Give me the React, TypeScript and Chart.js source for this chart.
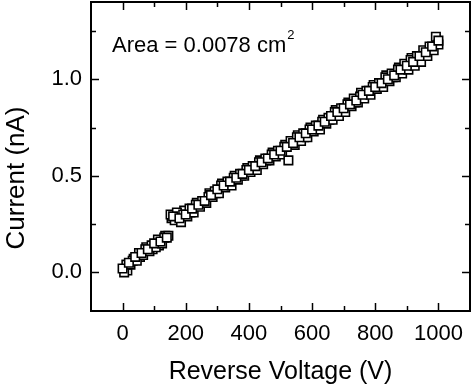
import React, { useEffect, useRef } from "react";
import { Chart, registerables } from "chart.js";

Chart.register(...registerables);

// ---- Data ----
const voltageA = [
  0, 20, 40, 60, 80, 100, 120, 140, 160, 180,
  200, 220, 240, 260, 280, 300, 320, 340, 360, 380,
  400, 420, 440, 460, 480, 500, 520, 540, 560, 580,
  600, 620, 640, 660, 680, 700, 720, 740, 760, 780,
  800, 820, 840, 860, 880, 900, 920, 940, 960, 980,
  1000,
];
const currentA = [
  0.02, 0.05, 0.08, 0.10, 0.12, 0.15, 0.16, 0.18, 0.29, 0.28,
  0.30, 0.33, 0.35, 0.37, 0.40, 0.43, 0.45, 0.47, 0.49, 0.51,
  0.53, 0.55, 0.57, 0.59, 0.61, 0.63, 0.65, 0.67, 0.70, 0.72,
  0.74, 0.76, 0.78, 0.81, 0.83, 0.85, 0.87, 0.89, 0.92, 0.94,
  0.96, 0.98, 1.00, 1.02, 1.05, 1.07, 1.09, 1.12, 1.14, 1.17,
  1.20,
];

const voltageB = [
  5, 25, 45, 65, 85, 105, 125, 145, 165, 185,
  205, 225, 245, 265, 285, 305, 325, 345, 365, 385,
  405, 425, 445, 465, 485, 505, 525, 545, 565, 585,
  605, 625, 645, 665, 685, 705, 725, 745, 765, 785,
  805, 825, 845, 865, 885, 905, 925, 945, 965, 985,
  1000,
];
const currentB = [
  0.00, 0.04, 0.06, 0.09, 0.11, 0.13, 0.15, 0.19, 0.27, 0.26,
  0.29, 0.31, 0.34, 0.36, 0.39, 0.41, 0.44, 0.45, 0.48, 0.50,
  0.52, 0.53, 0.56, 0.58, 0.60, 0.61, 0.58, 0.66, 0.68, 0.70,
  0.73, 0.74, 0.77, 0.79, 0.81, 0.83, 0.86, 0.88, 0.90, 0.92,
  0.95, 0.96, 0.99, 1.01, 1.03, 1.05, 1.07, 1.09, 1.12, 1.15,
  1.18,
];

const voltageC = [
  12, 32, 52, 72, 92, 112, 132, 152, 172, 192,
  212, 232, 252, 272, 292, 312, 332, 352, 372, 392,
  412, 432, 452, 472, 492, 512, 532, 552, 572, 592,
  612, 632, 652, 672, 692, 712, 732, 752, 772, 792,
  812, 832, 852, 872, 892, 912, 932, 952, 972, 992,
];
const currentC = [
  0.04, 0.06, 0.10, 0.12, 0.14, 0.17, 0.18, 0.30, 0.31, 0.30,
  0.33, 0.35, 0.37, 0.39, 0.42, 0.45, 0.47, 0.49, 0.51, 0.53,
  0.55, 0.57, 0.59, 0.61, 0.63, 0.65, 0.68, 0.70, 0.72, 0.74,
  0.76, 0.78, 0.80, 0.83, 0.85, 0.87, 0.90, 0.91, 0.94, 0.96,
  0.98, 1.01, 1.03, 1.05, 1.08, 1.10, 1.12, 1.15, 1.17, 1.22,
];

const voltageD = [
  15, 35, 55, 75, 95, 115, 135, 155, 175, 195,
  215, 235, 255, 275, 295, 315, 335, 355, 375, 395,
  415, 435, 455, 475, 495, 515, 535, 555, 575, 595,
  615, 635, 655, 675, 695, 715, 735, 755, 775, 795,
  815, 835, 855, 875, 895, 915, 935, 955, 975, 995,
];
const currentD = [
  0.01, 0.07, 0.08, 0.13, 0.12, 0.14, 0.19, 0.28, 0.30, 0.32,
  0.31, 0.36, 0.36, 0.41, 0.41, 0.46, 0.46, 0.50, 0.50, 0.54,
  0.54, 0.58, 0.58, 0.62, 0.62, 0.66, 0.66, 0.71, 0.70, 0.75,
  0.75, 0.79, 0.79, 0.84, 0.84, 0.88, 0.88, 0.93, 0.93, 0.97,
  0.97, 1.02, 1.01, 1.06, 1.06, 1.11, 1.10, 1.13, 1.16, 1.19,
];

const xMajorTicks = [0, 200, 400, 600, 800, 1000];
const xMinorTicks = [100, 300, 500, 700, 900];
const yMajorTicks = [0.0, 0.5, 1.0];
const yMinorTicks = [0.25, 0.75, 1.25];

const xTitle = "Reverse Voltage (V)";
const yTitle = "Current (nA)";
const annotationText = "Area = 0.0078 cm";
const annotationSup = "2";

const FONT = '"Liberation Sans", Arial, Helvetica, sans-serif';

const toPoints = (xs: number[], ys: number[]) =>
  xs.map((v, i) => ({ x: v, y: ys[i] }));

const framePlugin = {
  id: "frameAndTicks",
  afterDatasetsDraw(chart: any) {
    const { ctx, chartArea: a, scales } = chart;
    const x = scales.x;
    const y = scales.y;
    ctx.save();
    ctx.strokeStyle = "#000";
    ctx.lineWidth = 1.5;
    const line = (x1: number, y1: number, x2: number, y2: number) => {
      ctx.beginPath();
      ctx.moveTo(x1, y1);
      ctx.lineTo(x2, y2);
      ctx.stroke();
    };
    const majorLen = 8;
    const minorLen = 5;
    xMajorTicks.forEach((v) => {
      const p = Math.round(x.getPixelForValue(v)) + 0.5;
      line(p, a.bottom, p, a.bottom - majorLen);
      line(p, a.top, p, a.top + majorLen);
    });
    xMinorTicks.forEach((v) => {
      const p = Math.round(x.getPixelForValue(v)) + 0.5;
      line(p, a.bottom, p, a.bottom - minorLen);
      line(p, a.top, p, a.top + minorLen);
    });
    yMajorTicks.forEach((v) => {
      const p = Math.round(y.getPixelForValue(v)) + 0.5;
      line(a.left, p, a.left + majorLen, p);
      line(a.right, p, a.right - majorLen, p);
    });
    yMinorTicks.forEach((v) => {
      const p = Math.round(y.getPixelForValue(v)) + 0.5;
      line(a.left, p, a.left + minorLen, p);
      line(a.right, p, a.right - minorLen, p);
    });
    ctx.lineWidth = 2;
    ctx.strokeRect(a.left, a.top, a.right - a.left, a.bottom - a.top);

    // annotation
    ctx.fillStyle = "#000";
    ctx.textAlign = "left";
    ctx.textBaseline = "alphabetic";
    ctx.font = `22px ${FONT}`;
    const ax = a.left + 21;
    const ay = a.top + 50;
    ctx.fillText(annotationText, ax, ay);
    const w = ctx.measureText(annotationText).width;
    ctx.font = `13px ${FONT}`;
    ctx.fillText(annotationSup, ax + w + 1, ay - 13);

    // y title
    ctx.translate(17, 178);
    ctx.rotate(-Math.PI / 2);
    ctx.textAlign = "center";
    ctx.textBaseline = "middle";
    ctx.font = `26px ${FONT}`;
    ctx.fillText(yTitle, 0, 0);
    ctx.restore();
  },
};

export default function App() {
  const canvasRef = useRef<HTMLCanvasElement | null>(null);

  useEffect(() => {
    document.body.style.margin = "0";
    const canvas = canvasRef.current;
    if (!canvas) return;
    const mk = (label: string, xs: number[], ys: number[]) => ({
      label,
      data: toPoints(xs, ys),
      pointStyle: "rect",
      pointRadius: 6,
      pointBorderWidth: 1.6,
      borderColor: "#000",
      backgroundColor: "#fff",
      showLine: false,
    });
    const chart = new Chart(canvas, {
      type: "scatter",
      data: {
        datasets: [
          mk("Sweep 1", voltageA, currentA),
          mk("Sweep 2", voltageB, currentB),
          mk("Sweep 3", voltageC, currentC),
          mk("Sweep 4", voltageD, currentD),
        ],
      },
      options: {
        animation: false,
        responsive: true,
        maintainAspectRatio: false,
        layout: { padding: { left: 0, right: 4, top: 2, bottom: 0 }, autoPadding: false },
        plugins: {
          legend: { display: false },
          tooltip: { enabled: false },
        },
        scales: {
          x: {
            type: "linear",
            min: -100,
            max: 1100,
            grid: { display: false, drawTicks: false },
            border: { display: false },
            afterBuildTicks: (s: any) => {
              s.ticks = xMajorTicks.map((v) => ({ value: v }));
            },
            afterFit: (s: any) => {
              s.height = 77;
              s.paddingLeft = 0;
              s.paddingRight = 0;
            },
            ticks: {
              color: "#000",
              padding: 10,
              maxRotation: 0,
              font: { family: FONT, size: 22 },
              callback: (v: any) => String(v),
            },
            title: {
              display: true,
              text: xTitle,
              color: "#000",
              font: { family: FONT, size: 25 },
              padding: { top: 0, bottom: 1 },
            },
          },
          y: {
            type: "linear",
            min: -0.2,
            max: 1.4,
            grid: { display: false, drawTicks: false },
            border: { display: false },
            afterBuildTicks: (s: any) => {
              s.ticks = yMajorTicks.map((v) => ({ value: v }));
            },
            afterFit: (s: any) => {
              s.width = 91;
              s.paddingTop = 0;
              s.paddingBottom = 0;
            },
            ticks: {
              color: "#000",
              padding: 9,
              font: { family: FONT, size: 22 },
              callback: (v: any) => Number(v).toFixed(1),
            },
          },
        },
      },
      plugins: [framePlugin],
    } as any);
    return () => chart.destroy();
  }, []);

  return (
    <div style={{ position: "fixed", left: 0, top: 0, width: 474, height: 388 }}>
      <canvas ref={canvasRef} />
    </div>
  );
}
